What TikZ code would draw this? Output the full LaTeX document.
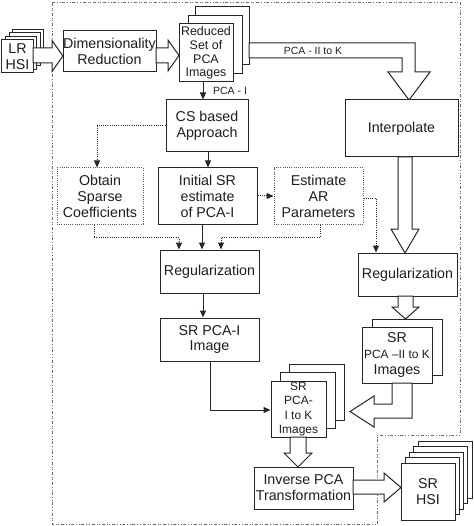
\documentclass[tikz,border=0pt]{standalone}
\usepackage{fontspec}
\setmainfont{Liberation Sans}
\usetikzlibrary{arrows.meta,calc}
\definecolor{ln}{HTML}{262626}
\definecolor{tx}{HTML}{1E1E1E}
\definecolor{bd}{HTML}{6A6A6A}
\begin{document}
\begin{tikzpicture}[x=1bp,y=-1bp,
  box/.style={draw=ln, line width=1bp, fill=white, inner sep=0pt, align=center, text=tx, font=\fontsize{14.3}{16}\selectfont},
  dotbox/.style={box, draw=ln!75, dash pattern=on 1bp off 1.2bp},
  layer/.style={draw=ln, line width=1bp, fill=white},
  arr/.style={draw=ln, line width=1bp, -{Triangle[length=7bp,width=6bp]}},
  darr/.style={arr, dash pattern=on 1bp off 1.2bp},
  blk/.style={draw=ln, line width=1bp, fill=white, line join=miter},
  lbl/.style={text=tx, font=\fontsize{10.5}{12}\selectfont, inner sep=0pt},
  frame/.style={draw=bd, line width=0.9bp, dash pattern=on 3bp off 2bp on 0.6bp off 2bp on 0.6bp off 2bp}
]
\useasboundingbox (0,0) rectangle (474,526);

% outer frame
\draw[frame] (52,2) -- (460,2) -- (460,435) -- (377,435) -- (377,524) -- (52,524) -- cycle;

% LR HSI stack
\foreach \k in {3,2,1} \draw[layer] (2+3.5*\k,40-3.5*\k) rectangle ++(31,33);
\node[box, minimum width=31bp, minimum height=33bp] (lr) at (17.5,56.5) {LR\\HSI};

% Dimensionality reduction
\node[box, minimum width=93bp, minimum height=41bp] (dr) at (109.5,51.5) {Dimensionality\\Reduction};

% Reduced set stack
\draw[layer] (195,7) rectangle ++(54,58);
\draw[layer] (188,16) rectangle ++(54,58);
\node[box, font=\fontsize{12.5}{13.7}\selectfont, minimum width=54bp, minimum height=58bp] (red) at (206,53) {Reduced\\Set of\\PCA\\Images};

% block arrows top row
\draw[blk] (33,48) -- (52,48) -- (52,40.5) -- (63,56) -- (52,71.5) -- (52,63) -- (33,63) -- cycle;
\draw[blk] (156,48) -- (168,48) -- (168,40) -- (179,55.5) -- (168,71) -- (168,63) -- (156,63) -- cycle;
\draw[blk] (249,43) -- (415,43) -- (415,72) -- (430,72) -- (409,100) -- (388,72) -- (402,72) -- (402,58) -- (249,58) -- cycle;
\node[lbl] (lab2) at (313,51) {PCA - II to K};

% CS branch
\node[box, minimum width=82bp, minimum height=52bp] (cs) at (207,126) {CS based\\Approach};
\node[lbl, anchor=west] (lab1) at (213,91) {PCA - I};
\node[box, minimum width=99bp, minimum height=56bp] (init) at (207.5,196) {Initial SR\\estimate\\of PCA-I};
\node[dotbox, minimum width=86bp, minimum height=56bp] (obt) at (100,196) {Obtain\\Sparse\\Coefficients};
\node[dotbox, minimum width=89bp, minimum height=56bp] (ar) at (318.5,196) {Estimate\\AR\\Parameters};

% right branch
\node[box, minimum width=113bp, minimum height=57bp] (interp) at (401.5,128.5) {Interpolate};
\node[box, minimum width=99bp, minimum height=43bp] (reg1) at (209.5,271.5) {Regularization};
\node[box, minimum width=99bp, minimum height=43bp] (reg2) at (407.5,274.5) {Regularization};
\node[box, minimum width=99bp, minimum height=43bp] (srpca1) at (209.5,339.5) {SR PCA-I\\Image};

\draw[layer] (372,319) rectangle ++(70,56);
\node[box, minimum width=70bp, minimum height=56bp] (sr2k) at (397,355) {SR\\{\fontsize{12}{15}\selectfont PCA –II to K}\\Images};

\draw[layer] (289,364) rectangle ++(55,56);
\draw[layer] (280,372.5) rectangle ++(55,56);
\node[box, font=\fontsize{12}{14.3}\selectfont, minimum width=55bp, minimum height=56bp] (sr1k) at (298.5,409) {SR\\PCA-\\I to K\\Images};

\node[box, minimum width=99bp, minimum height=42bp] (inv) at (303.5,488) {Inverse PCA\\Transformation};

\foreach \k in {4,3,2,1} \draw[layer] (401+4.3*\k,463-5.5*\k) rectangle ++(54,57);
\node[box, minimum width=54bp, minimum height=57bp] (srhsi) at (428,491.5) {SR\\HSI};

% block arrows lower
\draw[blk] (398,157) -- (412,157) -- (412,229) -- (419,229) -- (405,253) -- (391,229) -- (398,229) -- cycle;
\draw[blk] (398,296) -- (413,296) -- (413,307) -- (419,307) -- (405.5,319) -- (392,307) -- (398,307) -- cycle;
\draw[blk] (392,383) -- (392,404) -- (374,404) -- (374,396) -- (350,411.5) -- (374,427) -- (374,418) -- (412,418) -- (412,383) -- cycle;
\draw[blk] (290,437) -- (306,437) -- (306,453) -- (312,453) -- (298,467) -- (284,453) -- (290,453) -- cycle;
\draw[blk] (353,480) -- (384,480) -- (384,473) -- (401,487.5) -- (384,502) -- (384,494) -- (353,494) -- cycle;

% line connectors
\draw[arr] ([xshift=-3bp]red.south) -- ([xshift=-3bp]red.south |- cs.north);
\draw[arr] ([xshift=1bp]cs.south) -- ([xshift=1bp]cs.south |- init.north);
\draw[darr] (cs.west) -| ([xshift=-3bp]obt.north);
\draw[darr] (init.east) -- (ar.west);
\draw[darr] ([xshift=-6bp]obt.south) -- ++(0,13) -| ([xshift=-30.5bp]reg1.north);
\draw[arr] ([xshift=-5.5bp]init.south) -- ([xshift=-5.5bp]init.south |- reg1.north);
\draw[darr] ([xshift=1.5bp]ar.south) -- ++(0,13) -| ([xshift=11.5bp]reg1.north);
\draw[darr] ([yshift=-2bp]ar.east) -| ([xshift=-31.5bp]reg2.north);
\draw[arr] ([xshift=-6.5bp]reg1.south) -- ([xshift=-6.5bp]reg1.south |- srpca1.north);
\draw[arr] ([xshift=0.5bp]srpca1.south) |- ([yshift=-1bp]sr1k.west);
\end{tikzpicture}
\end{document}
